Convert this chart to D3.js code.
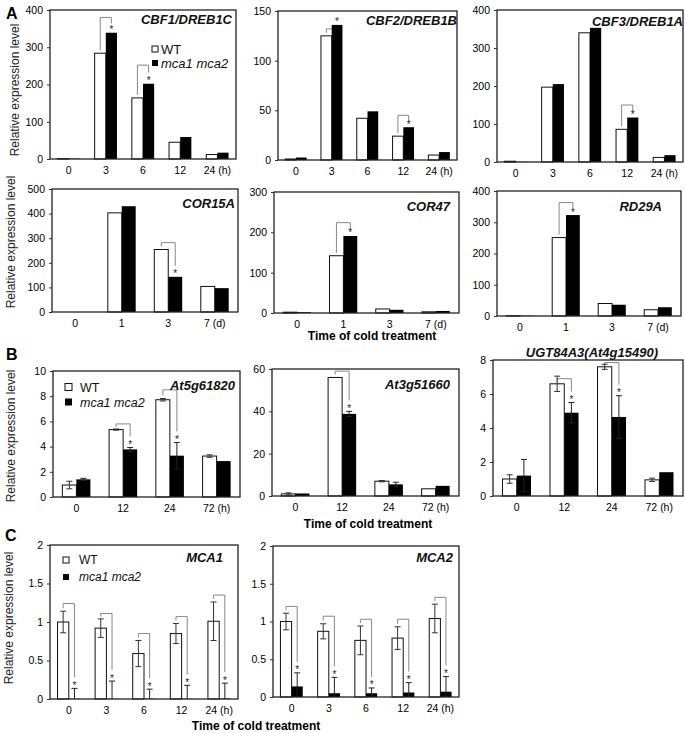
<!DOCTYPE html>
<html>
<head>
<meta charset="utf-8">
<script src="https://cdn.jsdelivr.net/npm/d3@7"></script>
<style>
  body { margin: 0; background: #fff; }
  svg text { font-family: Arial, "Liberation Sans", sans-serif; }
</style>
</head>
<body>
<svg id="fig" width="685" height="733"></svg>
<script>
// x categories
const hoursA = ['0', '3', '6', '12', '24 (h)'];
const daysA = ['0', '1', '3', '7 (d)'];
const hoursB = ['0', '12', '24', '72 (h)'];
const hoursC = ['0', '3', '6', '12', '24 (h)'];

// A, upper row
const cbf1WT = [1, 284, 164, 45, 12];
const cbf1Mut = [1, 339, 202, 59, 17];
const cbf1Stars = [[1, 380], [2, 252]];

const cbf2WT = [1, 125, 42, 24, 5];
const cbf2Mut = [2.5, 136, 49, 33, 8];
const cbf2Stars = [[1, 132], [3, 45]];

const cbf3WT = [2, 197, 340, 86, 12];
const cbf3Mut = [0.5, 205, 353, 117, 18];
const cbf3Stars = [[3, 150]];

// A, lower row
const cor15WT = [0, 403, 254, 104];
const cor15Mut = [0, 430, 143, 97];
const cor15Stars = [[2, 282]];

const cor47WT = [2, 142, 10, 3];
const cor47Mut = [2, 191, 8, 5];
const cor47Stars = [[1, 224]];

const rd29WT = [1, 251, 40, 20];
const rd29Mut = [1, 323, 36, 28];
const rd29Stars = [[1, 363]];

// B
const at5WT = [0.95, 5.35, 7.72, 3.25];
const at5WTErr = [0.3, 0.05, 0.1, 0.1];
const at5Mut = [1.4, 3.78, 3.28, 2.85];
const at5MutErr = [0.08, 0.15, 1.05, 0];
const at5Stars = [[1, 5.8], [2, 8.5]];

const at3WT = [1.0, 56, 7, 3.4];
const at3WTErr = [0.5, 0, 0.3, 0];
const at3Mut = [1.2, 38.8, 5.5, 4.8];
const at3MutErr = [0, 1.2, 1, 0];
const at3Stars = [[1, 59]];

const ugtWT = [1.0, 6.6, 7.6, 0.95];
const ugtWTErr = [0.25, 0.45, 0.15, 0.1];
const ugtMut = [1.2, 4.9, 4.65, 1.4];
const ugtMutErr = [0.95, 0.6, 1.25, 0];
const ugtStars = [[1, 6.9], [2, 7.85]];

// C
const mca1WT = [1.0, 0.92, 0.59, 0.85, 1.01];
const mca1WTErr = [0.14, 0.12, 0.17, 0.13, 0.25];
const mca1Mut = [0.003, 0.003, 0.003, 0.003, 0.006];
const mca1MutErr = [0.135, 0.23, 0.125, 0.175, 0.2];
const mca1Stars = [[0, 1.24], [1, 1.11], [2, 0.85], [3, 1.07], [4, 1.35]];

const mca2WT = [1.0, 0.87, 0.75, 0.78, 1.04];
const mca2WTErr = [0.11, 0.1, 0.19, 0.15, 0.19];
const mca2Mut = [0.14, 0.05, 0.05, 0.06, 0.07];
const mca2MutErr = [0.18, 0.21, 0.07, 0.13, 0.2];
const mca2Stars = [[0, 1.2], [1, 1.07], [2, 1.03], [3, 1.03], [4, 1.32]];

const svg = d3.select('svg#fig');
const FONT = 'Arial, "Liberation Sans", sans-serif';

main();

function main () {
  const panels = [
    { box: [50, 236, 10, 159], yMax: 400, ticks: [0, 100, 200, 300, 400], cats: hoursA,
      wt: cbf1WT, mut: cbf1Mut, stars: cbf1Stars, title: 'CBF1/DREB1C', tx: 232, ty: 24 },
    { box: [278, 457, 11, 160], yMax: 150, ticks: [0, 50, 100, 150], cats: hoursA,
      wt: cbf2WT, mut: cbf2Mut, stars: cbf2Stars, title: 'CBF2/DREB1B', tx: 457, ty: 25 },
    { box: [497, 683, 10, 162], yMax: 400, ticks: [0, 100, 200, 300, 400], cats: hoursA,
      wt: cbf3WT, mut: cbf3Mut, stars: cbf3Stars, title: 'CBF3/DREB1A', tx: 683, ty: 26 },
    { box: [52, 238, 189, 312], yMax: 500, ticks: [0, 100, 200, 300, 400, 500], cats: daysA,
      wt: cor15WT, mut: cor15Mut, stars: cor15Stars, title: 'COR15A', tx: 235, ty: 208 },
    { box: [274, 459, 192, 313], yMax: 300, ticks: [0, 100, 200, 300], cats: daysA,
      wt: cor47WT, mut: cor47Mut, stars: cor47Stars, title: 'COR47', tx: 450, ty: 211 },
    { box: [497, 681, 191, 316], yMax: 400, ticks: [0, 100, 200, 300, 400], cats: daysA,
      wt: rd29WT, mut: rd29Mut, stars: rd29Stars, title: 'RD29A', tx: 662, ty: 211 },
    { box: [53, 240, 371, 497], yMax: 10, ticks: [0, 2, 4, 6, 8, 10], cats: hoursB,
      wt: at5WT, wtErr: at5WTErr, mut: at5Mut, mutErr: at5MutErr, stars: at5Stars,
      title: 'At5g61820', tx: 235, ty: 390 },
    { box: [272, 459, 369, 496], yMax: 60, ticks: [0, 20, 40, 60], cats: hoursB,
      wt: at3WT, wtErr: at3WTErr, mut: at3Mut, mutErr: at3MutErr, stars: at3Stars,
      title: 'At3g51660', tx: 450, ty: 389 },
    { box: [493, 683, 360, 496], yMax: 8, ticks: [0, 2, 4, 6, 8], cats: hoursB,
      wt: ugtWT, wtErr: ugtWTErr, mut: ugtMut, mutErr: ugtMutErr, stars: ugtStars,
      title: 'UGT84A3(At4g15490)', tx: 658, ty: 357 },
    { box: [50, 238, 545, 699], yMax: 2, ticks: [0, 0.5, 1, 1.5, 2], cats: hoursC,
      wt: mca1WT, wtErr: mca1WTErr, mut: mca1Mut, mutErr: mca1MutErr, stars: mca1Stars,
      title: 'MCA1', tx: 223, ty: 562 },
    { box: [273, 459, 546, 697], yMax: 2, ticks: [0, 0.5, 1, 1.5, 2], cats: hoursC,
      wt: mca2WT, wtErr: mca2WTErr, mut: mca2Mut, mutErr: mca2MutErr, stars: mca2Stars,
      title: 'MCA2', tx: 453, ty: 562 },
  ];

  _forEach(panels, drawPanel);

  // legends
  drawLegend(152, 49, 63, 161, 13, 6);
  drawLegend(65, 387, 402, 80, 12.5, 7);
  drawLegend(63, 560, 577, 79, 12, 6);

  // panel letters
  label('A', 6, 19, 16, 'bold');
  label('B', 6, 360, 16, 'bold');
  label('C', 5, 541, 16, 'bold');

  // y titles
  yTitle(19, 90);
  yTitle(15, 242);
  yTitle(15, 436);
  yTitle(13, 618);

  // x titles
  label('Time of cold treatment', 372, 340, 12, 'bold', 'middle');
  label('Time of cold treatment', 368, 528, 12, 'bold', 'middle');
  label('Time of cold treatment', 256, 730, 12, 'bold', 'middle');
}

function _forEach (arr, fn) {
  for (let i = 0; i < arr.length; i++) fn(arr[i], i);
}

function drawPanel (p) {
  const [x0, x1, y0, y1] = p.box;
  const x = d3.scaleBand().domain(d3.range(p.cats.length)).range([x0, x1]);
  const y = d3.scaleLinear().domain([0, p.yMax]).range([y1, y0]);
  const w = x.bandwidth() * 0.3;
  const g = svg.append('g');

  // y axis (ticks outward)
  g.append('g')
    .attr('transform', `translate(${x0},0)`)
    .call(d3.axisLeft(y).tickValues(p.ticks).tickSize(3).tickPadding(4).tickFormat(d3.format('~g')))
    .call(a => a.select('.domain').remove())
    .call(a => a.selectAll('text').attr('font-size', 10.5).attr('font-family', FONT).attr('fill', '#000'))
    .call(a => a.selectAll('line').attr('stroke', '#333'));

  // x axis labels only
  g.append('g')
    .attr('transform', `translate(0,${y1})`)
    .call(d3.axisBottom(x).tickSize(0).tickPadding(8).tickFormat(i => p.cats[i]))
    .call(a => a.select('.domain').remove())
    .call(a => a.selectAll('text').attr('font-size', 10.5).attr('font-family', FONT).attr('fill', '#000'));

  const cx = i => x(i) + x.bandwidth() / 2;
  const topWT = i => y(p.wt[i] + (p.wtErr ? p.wtErr[i] : 0));
  const topMut = i => y(p.mut[i] + (p.mutErr ? p.mutErr[i] : 0));

  // significance brackets
  _forEach(p.stars, s => {
    const i = s[0];
    const ty = y(s[1]);
    const lx = cx(i) - w / 2;
    const rx = cx(i) + w / 2;
    const leftEnd = Math.max(ty + 3, topWT(i) - 3);
    const rightEnd = Math.max(ty + 6, topMut(i) - 11);
    g.append('path')
      .attr('d', `M${lx},${leftEnd}V${ty}H${rx}V${rightEnd}`)
      .attr('fill', 'none')
      .attr('stroke', '#888')
      .attr('stroke-width', 1);
  });

  // bars
  g.selectAll('rect.wt').data(p.wt).join('rect')
    .attr('x', (d, i) => cx(i) - w)
    .attr('y', d => y(d))
    .attr('width', w)
    .attr('height', d => y1 - y(d))
    .attr('fill', '#fff')
    .attr('stroke', '#111')
    .attr('stroke-width', 1);
  g.selectAll('rect.mut').data(p.mut).join('rect')
    .attr('x', (d, i) => cx(i))
    .attr('y', d => y(d))
    .attr('width', w)
    .attr('height', d => y1 - y(d))
    .attr('fill', '#000');

  // error bars
  if (p.wtErr) errorBars(g, p.wt, p.wtErr, i => cx(i) - w / 2, y, '#333');
  if (p.mutErr) errorBars(g, p.mut, p.mutErr, i => cx(i) + w / 2, y, '#222');

  // stars
  _forEach(p.stars, s => {
    const i = s[0];
    g.append('text').text('*')
      .attr('x', cx(i) + w / 2)
      .attr('y', topMut(i) + 0.5)
      .attr('text-anchor', 'middle')
      .attr('font-size', 10)
      .attr('fill', '#222');
  });

  // frame
  g.append('rect')
    .attr('x', x0).attr('y', y0)
    .attr('width', x1 - x0).attr('height', y1 - y0)
    .attr('fill', 'none')
    .attr('stroke', '#222')
    .attr('stroke-width', 1.3);

  // gene title
  g.append('text').text(p.title)
    .attr('x', p.tx).attr('y', p.ty)
    .attr('text-anchor', 'end')
    .attr('font-size', 13)
    .attr('font-weight', 'bold')
    .attr('font-style', 'italic')
    .attr('fill', '#111');
}

function errorBars (g, vals, errs, xf, y, color) {
  _forEach(vals, (v, i) => {
    const e = errs[i];
    if (!e) return;
    const lo = Math.max(0, v - e);
    const xx = xf(i);
    g.append('line')
      .attr('x1', xx).attr('x2', xx)
      .attr('y1', y(lo)).attr('y2', y(v + e))
      .attr('stroke', color).attr('stroke-width', 1);
    g.append('line')
      .attr('x1', xx - 3).attr('x2', xx + 3)
      .attr('y1', y(v + e)).attr('y2', y(v + e))
      .attr('stroke', color).attr('stroke-width', 1);
    if (lo > 0) {
      g.append('line')
        .attr('x1', xx - 3).attr('x2', xx + 3)
        .attr('y1', y(lo)).attr('y2', y(lo))
        .attr('stroke', color).attr('stroke-width', 1);
    }
  });
}

function drawLegend (sx, yWT, yMut, tx, fs, size) {
  svg.append('rect')
    .attr('x', sx).attr('y', yWT - size / 2)
    .attr('width', size).attr('height', size)
    .attr('fill', '#fff').attr('stroke', '#111').attr('stroke-width', 1);
  svg.append('rect')
    .attr('x', sx).attr('y', yMut - size / 2)
    .attr('width', size).attr('height', size)
    .attr('fill', '#000');
  svg.append('text').text('WT')
    .attr('x', tx).attr('y', yWT + fs * 0.36)
    .attr('font-size', fs).attr('fill', '#111');
  svg.append('text').text('mca1 mca2')
    .attr('x', tx).attr('y', yMut + fs * 0.36)
    .attr('font-size', fs).attr('font-style', 'italic').attr('fill', '#111');
}

function label (txt, x, y, fs, weight, anchor) {
  svg.append('text').text(txt)
    .attr('x', x).attr('y', y)
    .attr('font-size', fs)
    .attr('font-weight', weight || 'normal')
    .attr('text-anchor', anchor || 'start')
    .attr('fill', '#000');
}

function yTitle (x, cy) {
  svg.append('text').text('Relative expression level')
    .attr('transform', `translate(${x},${cy}) rotate(-90)`)
    .attr('text-anchor', 'middle')
    .attr('font-size', 12)
    .attr('fill', '#222');
}
</script>
</body>
</html>
